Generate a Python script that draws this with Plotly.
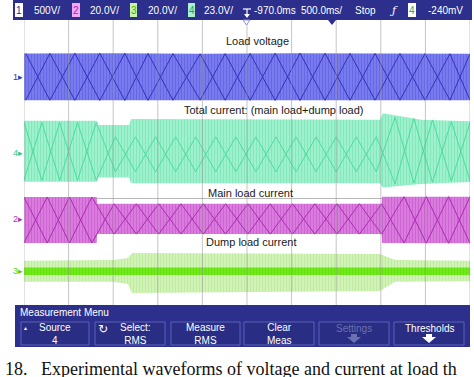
import numpy as np
import plotly.graph_objects as go

W, H = 474, 377

# ---------------- data (values in scope graticule divisions) ----------------
# Channel 1 - load voltage (blue)
ch1_x = [0.0, 2.0, 4.0, 6.0, 8.0, 10.0]
ch1_top = [3.06, 3.07, 3.05, 3.07, 3.06, 3.05]
ch1_bot = [1.75, 1.74, 1.75, 1.74, 1.75, 1.75]
ch1_beats = [0.04, 0.58, 1.14, 1.70, 2.26, 2.78, 3.34, 3.95, 4.51, 5.07,
             5.63, 6.19, 6.75, 7.31, 7.87, 8.43, 8.99, 9.55, 10.0]

# Channel 4 - total current (main load + dump load) (teal)
ch4_x = [0.0, 1.64, 1.66, 2.36, 2.40, 7.98, 8.05, 8.90, 10.0]
ch4_top = [1.17, 1.17, 1.05, 1.05, 1.22, 1.20, 1.38, 1.20, 1.16]
ch4_bot = [-0.54, -0.54, -0.42, -0.42, -0.58, -0.58, -0.70, -0.60, -0.55]
ch4_in_x = [0.0, 1.64, 1.66, 7.98, 8.00, 10.0]
ch4_in_top = [1.12, 1.12, 0.72, 0.72, 1.30, 1.12]
ch4_in_bot = [-0.50, -0.50, -0.26, -0.26, -0.62, -0.50]
ch4_beats = [0.0, 0.40, 0.80, 1.20, 1.62, 2.05, 2.50, 2.95, 3.40, 3.85, 4.30,
             4.75, 5.20, 5.65, 6.10, 6.55, 7.00, 7.45, 7.90, 8.32, 8.74,
             9.16, 9.58, 10.0]

# Channel 2 - main load current (magenta)
ch2_x = [0.0, 1.63, 1.64, 8.02, 8.03, 10.0]
ch2_top = [-0.97, -0.97, -1.16, -1.16, -0.96, -0.96]
ch2_bot = [-2.26, -2.26, -2.01, -2.01, -2.26, -2.27]
ch2_beats = [0.0, 0.52, 1.02, 1.52, 2.02, 2.52, 3.02, 3.52, 4.02, 4.52, 5.02,
             5.52, 6.02, 6.52, 7.02, 7.52, 8.02, 8.52, 9.02, 9.52, 10.0]

# Channel 3 - dump load current (green)
ch3_x = [0.0, 2.0, 2.33, 2.42, 7.98, 8.32, 10.0]
ch3_top = [-2.76, -2.74, -2.68, -2.54, -2.57, -2.74, -2.76]
ch3_bot = [-3.35, -3.35, -3.41, -3.66, -3.61, -3.35, -3.33]
ch3_core_x = [0.0, 10.0]
ch3_core_top = [-2.95, -2.95]
ch3_core_bot = [-3.16, -3.16]

trace_labels = ["Load voltage", "Total current: (main load+dump load)",
                "Main load current", "Dump load current"]
header_items = ["500V/", "20.0V/", "20.0V/", "23.0V/", "-970.0ms", "500.0ms/",
                "Stop", "-240mV"]
menu_buttons = [("Source", "4"), ("Select:", "RMS"), ("Measure", "RMS"),
                ("Clear", "Meas"), ("Settings", ""), ("Thresholds", "")]
caption = "18.   Experimental waveforms of voltage and current at load th"

# ---------------- helpers ----------------
def px(x):
    return x / W

def py(y):
    return 1 - y / H

NAVY = "#2c2f8c"
SANS = "Liberation Sans, Arial, sans-serif"

fig = go.Figure()
shapes = []
ann = []


def txt(x, y, text, size=10, color="white", family=SANS, xa="center", ya="middle"):
    ann.append(dict(x=px(x), y=py(y), xref="paper", yref="paper", text=text,
                    showarrow=False, xanchor=xa, yanchor=ya,
                    font=dict(family=family, size=size, color=color)))


def band(ex, et, eb, bg, fg, name):
    xs = list(ex) + list(ex)[::-1]
    ys = list(et) + list(eb)[::-1]
    fig.add_trace(go.Scatter(
        x=xs, y=ys, mode="lines", fill="toself", line=dict(width=0, color=bg),
        fillcolor=bg,
        fillpattern=dict(shape="|", fgcolor=fg, bgcolor=bg, size=3, solidity=0.45),
        hoverinfo="skip", showlegend=False, name=name))


def lattice(nodes, ex, et, eb, color, width=1.0):
    t = np.interp(nodes, ex, et)
    b = np.interp(nodes, ex, eb)
    ya = [t[i] if i % 2 == 0 else b[i] for i in range(len(nodes))]
    yb = [b[i] if i % 2 == 0 else t[i] for i in range(len(nodes))]
    for yy in (ya, yb):
        fig.add_trace(go.Scatter(x=nodes, y=yy, mode="lines",
                                 line=dict(color=color, width=width),
                                 hoverinfo="skip", showlegend=False))


# Channel 1
band(ch1_x, ch1_top, ch1_bot, "#7c7ef0", "#5052da", "ch1")
lattice(ch1_beats, ch1_x, ch1_top, ch1_bot, "#3234b8", 1.0)
# Channel 4
band(ch4_x, ch4_top, ch4_bot, "#a4f1d0", "#5fe2a8", "ch4")
lattice(ch4_beats, ch4_in_x, ch4_in_top, ch4_in_bot, "#48d89a", 0.9)
# Channel 2
band(ch2_x, ch2_top, ch2_bot, "#db80df", "#c248c8", "ch2")
lattice(ch2_beats, ch2_x, ch2_top, ch2_bot, "#a92eb0", 1.0)
# Channel 3
band(ch3_x, ch3_top, ch3_bot, "#d4f4bc", "#a8e27e", "ch3")
band(ch3_core_x, ch3_core_top, ch3_core_bot, "#72ea1c", "#5ad80a", "ch3core")

# vertical graticule lines above traces
for i in range(11):
    shapes.append(dict(type="line", xref="x", yref="paper", x0=i, x1=i,
                       y0=py(305), y1=py(20), layer="above",
                       line=dict(color="rgba(150,150,150,0.55)", width=1)))

# header bar
shapes.append(dict(type="rect", xref="paper", yref="paper", x0=px(13), x1=px(472),
                   y0=py(20), y1=py(0), fillcolor=NAVY, line=dict(width=0), layer="above"))
# channel boxes in header
boxes = [(15, 23, "#ffffff", "1", "#2c2f8c"), (72, 80, "#f4a8f4", "2", "#b020b0"),
         (130, 137, "#c8f4a8", "3", "#40b000"), (188, 195, "#a8f2d2", "4", "#20a070"),
         (408, 416, "#ffffff", "4", "#20b070")]
for x0, x1, fc, t, tc in boxes:
    shapes.append(dict(type="rect", xref="paper", yref="paper", x0=px(x0), x1=px(x1),
                       y0=py(17), y1=py(3), fillcolor=fc, line=dict(width=0), layer="above"))
    txt((x0 + x1) / 2, 10, t, size=10, color=tc)
hx = [47, 104, 162, 218, 275, 321, 365, 445]
for x, t in zip(hx, header_items):
    txt(x, 10, t, size=10)
txt(393, 10, "<i>ƒ</i>", size=11, family="DejaVu Serif")
# ground / reference icon
shapes.append(dict(type="line", xref="paper", yref="paper", x0=px(243), x1=px(251),
                   y0=py(9), y1=py(9), line=dict(color="white", width=1.2), layer="above"))
shapes.append(dict(type="line", xref="paper", yref="paper", x0=px(247), x1=px(247),
                   y0=py(9), y1=py(15), line=dict(color="white", width=1.2), layer="above"))
shapes.append(dict(type="path", xref="paper", yref="paper",
                   path=f"M {px(244)} {py(14)} L {px(250)} {py(14)} L {px(247)} {py(18)} Z",
                   fillcolor="white", line=dict(width=0), layer="above"))
# top markers
shapes.append(dict(type="path", xref="paper", yref="paper",
                   path=f"M {px(243)} {py(20)} L {px(250)} {py(20)} L {px(246.5)} {py(25)} Z",
                   fillcolor="white", line=dict(color="#8890c8", width=1), layer="above"))
shapes.append(dict(type="path", xref="paper", yref="paper",
                   path=f"M {px(328)} {py(20)} L {px(336)} {py(20)} L {px(332)} {py(25)} Z",
                   fillcolor=NAVY, line=dict(width=0), layer="above"))

# channel markers on left
for y, t, c in [(77, "1", "#3436cc"), (153, "4", "#30c888"), (219, "2", "#b030b8"),
                (271, "3", "#58d010")]:
    txt(18, y, t + "▸", size=9, color=c)

# trace labels
for (x, y), t in zip([(257, 41), (273, 110), (250, 193), (251, 242)], trace_labels):
    txt(x, y, t, size=11, color="#1a1a1a")

# measurement menu
shapes.append(dict(type="rect", xref="paper", yref="paper", x0=px(15), x1=px(470),
                   y0=py(347), y1=py(305), fillcolor=NAVY, line=dict(width=0), layer="above"))
txt(18, 312, "Measurement Menu", size=10, xa="left")
bx = [(21, 89), (95, 165), (171, 240), (244, 314), (319, 389), (394, 464)]
for (x0, x1), (l1, l2) in zip(bx, menu_buttons):
    shapes.append(dict(type="rect", xref="paper", yref="paper", x0=px(x0), x1=px(x1),
                       y0=py(345), y1=py(322), fillcolor="#2a2d84",
                       line=dict(color="#5a62b8", width=1), layer="above"))
    col = "#6a70b0" if l1 == "Settings" else "white"
    cx = (x0 + x1) / 2 + (5 if l1 == "Select:" else 0)
    if l2:
        txt(cx, 333.5, l1 + "<br>" + l2, size=10, color=col)
    else:
        txt(cx, 328, l1, size=10, color=col)
        c = (x0 + x1) / 2
        shapes.append(dict(type="path", xref="paper", yref="paper",
                           path=(f"M {px(c-7)} {py(337)} L {px(c+7)} {py(337)} "
                                 f"L {px(c)} {py(343)} Z"),
                           fillcolor=col, line=dict(width=0), layer="above"))
        shapes.append(dict(type="rect", xref="paper", yref="paper", x0=px(c - 3), x1=px(c + 3),
                           y0=py(337), y1=py(334), fillcolor=col, line=dict(width=0),
                           layer="above"))
# small icons
txt(25, 328, "▲", size=5)
txt(103, 329, "↻", size=12, family="DejaVu Sans")

# caption (its lower edge is cut off by the page edge, as in the reference)
txt(3, 357, caption, size=18, color="#111111",
    family="Liberation Serif, Times New Roman, serif", xa="left", ya="top")

fig.update_layout(
    width=W, height=H, margin=dict(l=0, r=0, t=0, b=0),
    paper_bgcolor="white", plot_bgcolor="white",
    xaxis=dict(domain=[px(24), px(470)], range=[0, 10], showgrid=False,
               showticklabels=False, ticks="", zeroline=False, fixedrange=True),
    yaxis=dict(domain=[py(305), py(20)], range=[-4, 4], dtick=1, showgrid=True,
               gridcolor="#b8b8b8", gridwidth=1, showticklabels=False, ticks="",
               zeroline=False, fixedrange=True),
    shapes=shapes, annotations=ann, showlegend=False,
)
fig.write_html("out.html", config={"staticPlot": True, "displayModeBar": False},
               post_script="document.body.style.margin='0px';"
                           "document.body.style.overflow='hidden';")
